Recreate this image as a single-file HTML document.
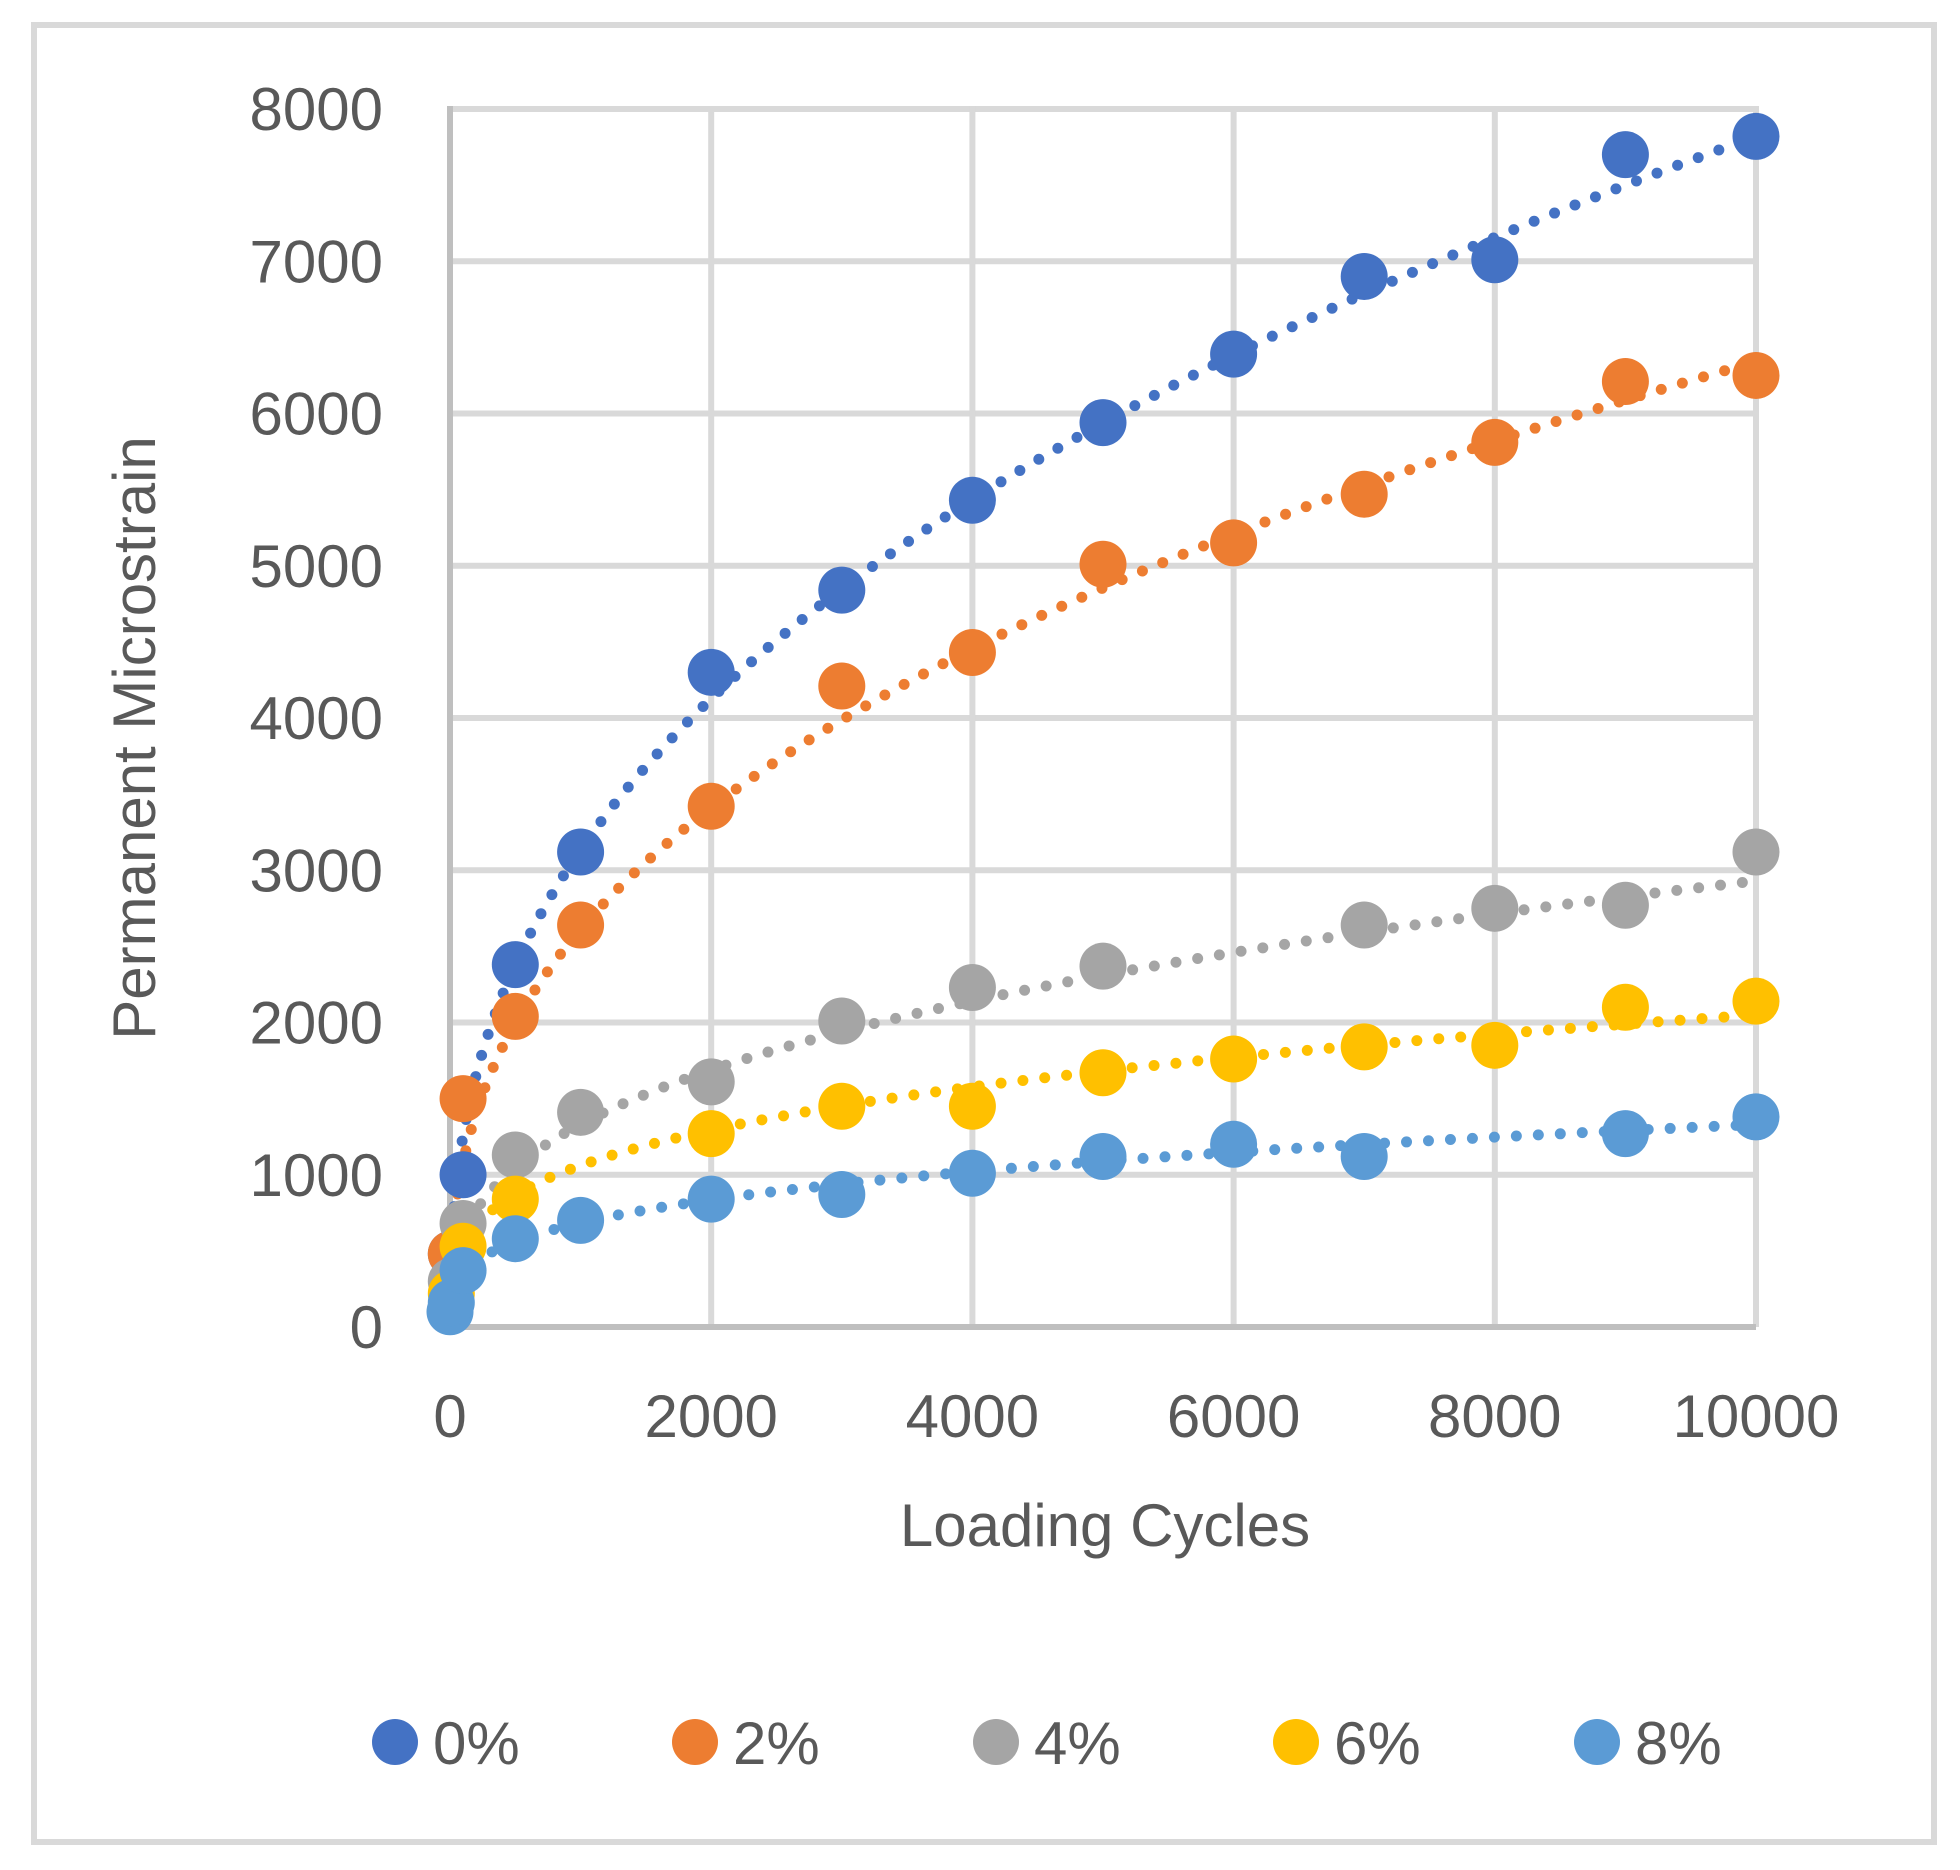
<!DOCTYPE html>
<html><head><meta charset="utf-8">
<style>
html,body{margin:0;padding:0;background:#fff;}
svg{display:block;}
text{font-family:"Liberation Sans",sans-serif;fill:#595959;}
</style></head>
<body>
<svg id="c" width="1960" height="1870" viewBox="0 0 1960 1870" xmlns="http://www.w3.org/2000/svg">
<rect x="34" y="25" width="1900" height="1817" fill="none" stroke="#d9d9d9" stroke-width="6"/>
<g id="grid"></g>
<g id="trend"></g>
<g id="pts"></g>
<g id="labels" font-size="60"></g>
<text x="1105" y="1546" font-size="60" text-anchor="middle">Loading Cycles</text>
<text transform="translate(155,738) rotate(-90)" font-size="60" text-anchor="middle">Permanent Microstrain</text>
<g id="legend" font-size="60"></g>
</svg>
<script>
const NS="http://www.w3.org/2000/svg";
const X=v=>450+v*0.1306, Y=v=>1327-v*0.15225;
function el(p,t,a,txt){const e=document.createElementNS(NS,t);for(const k in a)e.setAttribute(k,a[k]);if(txt!=null)e.textContent=txt;document.getElementById(p).appendChild(e);return e;}
for(let v=1000;v<=8000;v+=1000) el("grid","line",{x1:450,x2:1756,y1:Y(v),y2:Y(v),stroke:"#d9d9d9","stroke-width":6});
for(let v=2000;v<=10000;v+=2000) el("grid","line",{x1:X(v),x2:X(v),y1:Y(8000)-3,y2:1327,stroke:"#d9d9d9","stroke-width":6});
el("grid","line",{x1:450,x2:1756,y1:1327,y2:1327,stroke:"#bfbfbf","stroke-width":6});
el("grid","line",{x1:450,x2:450,y1:Y(8000)-3,y2:1330,stroke:"#bfbfbf","stroke-width":6});
for(let v=0;v<=8000;v+=1000) el("labels","text",{x:383,y:Y(v)+21,"text-anchor":"end"},String(v));
for(let v=0;v<=10000;v+=2000) el("labels","text",{x:X(v),y:1437,"text-anchor":"middle"},String(v));
const S=[
 {c:"#4472c4",a:[500,2380],b:[10000,7820],d:[[10,480],[100,1000],[500,2380],[1000,3120],[2000,4300],[3000,4840],[4000,5430],[5000,5940],[6000,6390],[7000,6900],[8000,7010],[9000,7700],[10000,7820]]},
 {c:"#ed7d31",a:[500,2000],b:[10000,6340],d:[[10,480],[100,1500],[500,2040],[1000,2640],[2000,3420],[3000,4210],[4000,4430],[5000,5010],[6000,5150],[7000,5470],[8000,5810],[9000,6210],[10000,6250]]},
 {c:"#a5a5a5",a:[500,1050],b:[10000,2930],d:[[10,300],[100,680],[500,1130],[1000,1410],[2000,1610],[3000,2010],[4000,2230],[5000,2370],[7000,2640],[8000,2750],[9000,2770],[10000,3120]]},
 {c:"#ffc000",a:[500,870],b:[10000,2050],d:[[10,220],[100,530],[500,840],[2000,1270],[3000,1450],[4000,1450],[5000,1670],[6000,1760],[7000,1840],[8000,1850],[9000,2100],[10000,2140]]},
 {c:"#5b9bd5",a:[500,560],b:[10000,1330],d:[[0,100],[10,160],[100,370],[500,580],[1000,700],[2000,840],[3000,870],[4000,1010],[5000,1120],[6000,1200],[7000,1120],[9000,1270],[10000,1380]]}
];
S.forEach(s=>{
 const bb=Math.log(s.b[1]/s.a[1])/Math.log(s.b[0]/s.a[0]);
 let p=[];
 for(let i=0;i<=400;i++){const x=10*Math.pow(1000,i/400);const y=s.a[1]*Math.pow(x/s.a[0],bb);p.push(X(x).toFixed(1)+","+Y(y).toFixed(1));}
 el("trend","polyline",{points:p.join(" "),fill:"none",stroke:s.c,"stroke-width":11,"stroke-linecap":"round","stroke-dasharray":"0 22"});
});
S.forEach(s=>{s.d.forEach(q=>el("pts","circle",{cx:X(q[0]),cy:Y(q[1]),r:23.5,fill:s.c}));});
const L=["0%","2%","4%","6%","8%"],LX=[395,695,996,1296,1597];
S.forEach((s,i)=>{el("legend","circle",{cx:LX[i],cy:1742,r:23,fill:s.c});el("legend","text",{x:LX[i]+38,y:1764},L[i]);});
</script>
</body></html>
